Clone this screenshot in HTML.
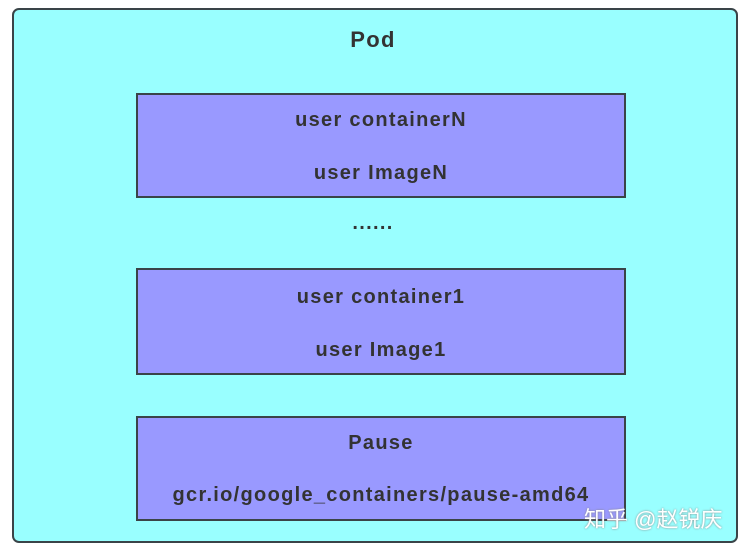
<!DOCTYPE html>
<html><head><style>
body{margin:0;width:746px;height:548px;background:#fff;position:relative;overflow:hidden;font-family:"Liberation Sans","Noto Sans CJK SC",sans-serif;}
.pod{position:absolute;left:12px;top:8px;width:722px;height:531px;background:#99ffff;border:2px solid #3a4448;border-radius:7px;}
.b{position:absolute;left:136px;width:486px;background:#9999ff;border:2px solid #3a4448;}
.t{position:absolute;width:100%;text-align:center;font-weight:bold;font-size:20px;letter-spacing:1.3px;color:#333;}
.wm{position:absolute;left:584px;top:502px;font-size:22px;color:#fff;text-shadow:0 0 2px #888;}
</style></head><body>
<div class="pod"></div>
<div class="t" style="top:27px;font-size:22px">Pod</div>
<div class="b" style="top:93px;height:101px"><div class="t" style="top:14px">user containerN</div><div class="t" style="top:67px">user ImageN</div></div>
<div class="t" style="top:212px">......</div>
<div class="b" style="top:268px;height:103px"><div class="t" style="top:16px">user container1</div><div class="t" style="top:69px">user Image1</div></div>
<div class="b" style="top:416px;height:101px"><div class="t" style="top:14px">Pause</div><div class="t" style="top:66px">gcr.io/google_containers/pause-amd64</div></div>
<div class="wm">知乎 @赵锐庆</div>
</body></html>
